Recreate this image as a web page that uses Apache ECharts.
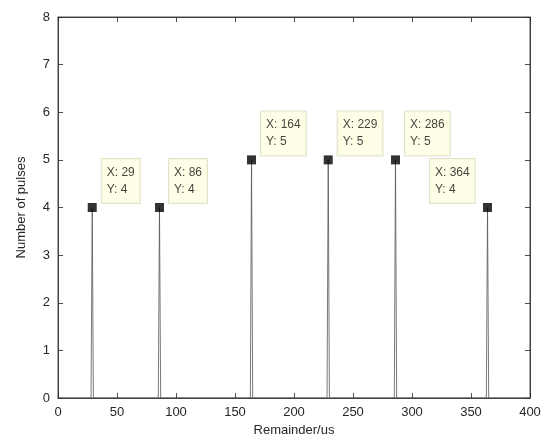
<!DOCTYPE html>
<html><head><meta charset="utf-8">
<script src="https://cdn.jsdelivr.net/npm/echarts@6/dist/echarts.min.js"></script>
<style>html,body{margin:0;background:#fff}#c{width:550px;height:447px}</style>
</head><body><div id="c"></div>
<script>
const spikeX = [29, 86, 164, 229, 286, 364];
const spikeY = [4, 4, 5, 5, 5, 4];
const labelLeft = [false, false, false, false, false, true];

const lineData = [[0,0]];
spikeX.forEach((x,i)=>{ lineData.push([x-1,0],[x,spikeY[i]],[x+1,0]); });
lineData.push([400,0]);

const font = {fontFamily:'Liberation Sans, Arial, sans-serif', fontSize:13, color:'#262626'};
const axisCommon = {
  axisLine:{show:true,onZero:false,lineStyle:{color:'#262626',width:0.8}},
  axisTick:{show:true,inside:true,length:5,lineStyle:{color:'#262626',width:0.8}},
  splitLine:{show:false},
  axisLabel:Object.assign({},font),
  nameTextStyle:Object.assign({},font,{fontSize:13})
};
const chart = echarts.init(document.getElementById('c'));
chart.setOption({
  animation:false,
  grid:{left:58,right:20,top:17,bottom:49,show:true,borderColor:'#262626',borderWidth:0.8},
  xAxis:[Object.assign({type:'value',min:0,max:400,interval:50,name:'Remainder/us',nameLocation:'middle',nameGap:19},axisCommon),
         Object.assign({type:'value',min:0,max:400,interval:50,position:'top'},axisCommon,{axisLabel:{show:false}})],
  yAxis:[Object.assign({type:'value',min:0,max:8,interval:1,name:'Number of pulses',nameLocation:'middle',nameGap:30},axisCommon),
         Object.assign({type:'value',min:0,max:8,interval:1,position:'right'},axisCommon,{axisLabel:{show:false}})],
  series:[
    {type:'line',data:lineData,symbol:'none',lineStyle:{color:'#555',width:0.8}},
    {type:'scatter',symbol:'rect',symbolSize:9,itemStyle:{color:'#000'},z:5,
     data:spikeX.map((x,i)=>({value:[x,spikeY[i]],label:{
       show:true,formatter:'X: '+x+'\nY: '+spikeY[i],
       position: labelLeft[i]?[-53,-44]:[14,-44], align:'left',
       backgroundColor:'#ffffe1',borderColor:'#d9d9c0',borderWidth:1,
       padding:[5,5,5,5],lineHeight:17,fontFamily:'Liberation Sans, Arial, sans-serif',fontSize:12,color:'#111'}}))}
  ]
});
</script></body></html>
